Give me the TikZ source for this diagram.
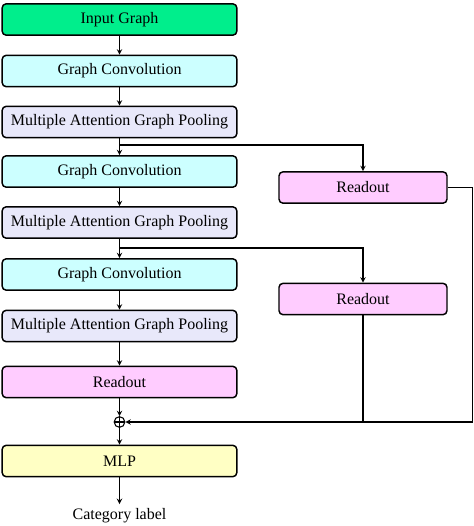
\documentclass[tikz,border=0pt]{standalone}
\usepackage{fontspec}
\setmainfont{Liberation Serif}
\usepackage{tikz}
\usetikzlibrary{arrows,positioning}

\definecolor{inputgreen}{RGB}{0,238,140}
\definecolor{convcyan}{RGB}{204,255,255}
\definecolor{poollav}{RGB}{232,232,250}
\definecolor{readpink}{RGB}{255,204,255}
\definecolor{mlpyellow}{RGB}{255,255,196}

\tikzset{
  block/.style={draw, line width=1.1pt, rounded corners=3pt, minimum width=176pt, minimum height=23.5pt, inner sep=0pt, font=\fontsize{12}{14}\selectfont},
  sideblock/.style={block, minimum width=126pt},
  flow/.style={-stealth, thick},
  summer/.style={circle, draw, thick, inner sep=0pt, minimum size=8pt,
    path picture={\draw[thick] (path picture bounding box.north) -- (path picture bounding box.south)
      (path picture bounding box.west) -- (path picture bounding box.east);}},
}

\begin{document}
\begin{tikzpicture}[x=0.75pt, y=-0.75pt]
\useasboundingbox (0,0) rectangle (474,526);
% main column
\node[block, fill=inputgreen] (inp)   at (119.5,19.5)  {Input Graph};
\node[block, fill=convcyan]   (conv1) at (119.5,71)    {Graph Convolution};
\node[block, fill=poollav]    (pool1) at (119.5,122)   {Multiple Attention Graph Pooling};
\node[block, fill=convcyan]   (conv2) at (119.5,171.5) {Graph Convolution};
\node[block, fill=poollav]    (pool2) at (119.5,222.5) {Multiple Attention Graph Pooling};
\node[block, fill=convcyan]   (conv3) at (119.5,274.5) {Graph Convolution};
\node[block, fill=poollav]    (pool3) at (119.5,326)   {Multiple Attention Graph Pooling};
\node[block, fill=readpink]   (read3) at (119.5,382)   {Readout};
\node[summer] (sum) at (119.5,422) {};
\node[block, fill=mlpyellow]  (mlp)   at (119.5,461)   {MLP};
\node[font=\fontsize{12}{14}\selectfont] (out) at (119.5,516) {Category label};
% side column
\node[sideblock, fill=readpink] (read1) at (363,187.5) {Readout};
\node[sideblock, fill=readpink] (read2) at (363,299)   {Readout};
% branch points
\coordinate (br1) at (119.5,145);
\coordinate (br2) at (119.5,248);
\coordinate (rr)  at (472.5,422);

\draw[flow] (inp) -- (conv1);
\draw[flow] (conv1) -- (pool1);
\draw[flow] (pool1) -- (conv2);
\draw[flow] (conv2) -- (pool2);
\draw[flow] (pool2) -- (conv3);
\draw[flow] (conv3) -- (pool3);
\draw[flow] (pool3) -- (read3);
\draw[flow] (read3) -- (sum);
\draw[flow] (sum) -- (mlp);
\draw[flow] (mlp) -- (out);
\draw[flow] (br1) -| (read1);
\draw[flow] (br2) -| (read2);
\draw[thick] (read1.east) -| (rr);
\draw[thick] (read2) -- (read2 |- sum);
\draw[flow] (rr) -- (sum);
\end{tikzpicture}
\end{document}
